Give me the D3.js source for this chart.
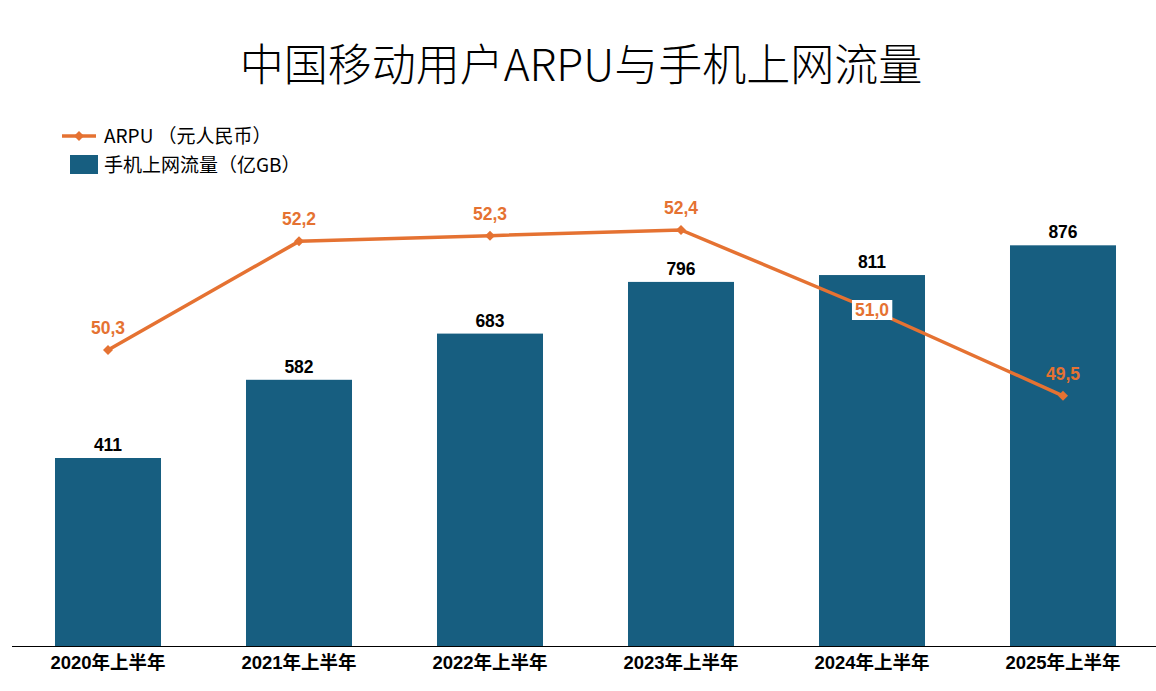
<!DOCTYPE html>
<html>
<head>
<meta charset="utf-8">
<script src="https://cdn.jsdelivr.net/npm/d3@7"></script>
<style>
  body { margin: 0; background: #fff; }
  svg { display: block; font-family: "Liberation Sans", Arial, sans-serif; }
</style>
</head>
<body>
<div id="chart"></div>
<script>
// data
const categories = ["2020年上半年", "2021年上半年", "2022年上半年", "2023年上半年", "2024年上半年", "2025年上半年"];
const traffic = [411, 582, 683, 796, 811, 876];      // 亿GB
const arpu = [50.3, 52.2, 52.3, 52.4, 51.0, 49.5];  // 元人民币
const title = "中国移动用户ARPU与手机上网流量";
const legendArpu = "ARPU （元人民币）";
const legendTraffic = "手机上网流量（亿GB）";

const width = 1156, height = 691;
const barColor = "#175E80", lineColor = "#E57232";
const baseY = 646;

const svg = d3.select("#chart").append("svg")
  .attr("width", width)
  .attr("height", height);

const x = d3.scaleBand()
  .domain(categories)
  .range([12.5, 1158.5])
  .paddingInner(0.445)
  .paddingOuter(0.2225);

const yBar = d3.scaleLinear().domain([0, 1000]).range([baseY, 188.6]);
const yLine = d3.scaleLinear().domain([45, 53]).range([653.2, 195.6]);

// title
svg.append("text")
  .attr("x", 581).attr("y", 81)
  .attr("text-anchor", "middle")
  .style("font-family", "'Noto Sans CJK SC', sans-serif")
  .style("font-weight", 300)
  .style("font-size", "44px")
  .attr("fill", "#000")
  .text(title);

// bars
svg.selectAll(".bar")
  .data(traffic)
  .enter().append("rect")
  .attr("class", "bar")
  .attr("x", (d, i) => x(categories[i]))
  .attr("y", d => yBar(d))
  .attr("width", x.bandwidth())
  .attr("height", d => baseY - yBar(d))
  .attr("fill", barColor);

svg.selectAll(".barlabel")
  .data(traffic)
  .enter().append("text")
  .attr("class", "barlabel")
  .attr("x", (d, i) => x(categories[i]) + x.bandwidth() / 2)
  .attr("y", d => yBar(d) - 7)
  .attr("text-anchor", "middle")
  .style("font-size", "17.5px")
  .style("font-weight", "bold")
  .attr("fill", "#000")
  .text(d => d);

// x axis
const xAxis = svg.append("g")
  .attr("transform", "translate(0," + baseY + ")")
  .call(d3.axisBottom(x).tickSize(0).tickPadding(10));
xAxis.select(".domain").attr("d", "M12,0.5H1156").attr("stroke", "#000");
xAxis.selectAll("text")
  .style("font-family", "'Liberation Sans', 'Noto Sans CJK SC', sans-serif")
  .style("font-size", "18.5px")
  .style("font-weight", "bold")
  .attr("fill", "#000");

// line
const cx = i => x(categories[i]) + x.bandwidth() / 2;
const line = d3.line()
  .x((d, i) => cx(i))
  .y(d => yLine(d));

svg.append("path")
  .datum(arpu)
  .attr("d", line)
  .attr("fill", "none")
  .attr("stroke", lineColor)
  .attr("stroke-width", 3.5);

// square marker turned 45 degrees
const marker = d3.symbol().type(d3.symbolSquare).size(50);
svg.selectAll(".marker")
  .data(arpu)
  .enter().append("path")
  .attr("class", "marker")
  .attr("d", marker)
  .attr("transform", (d, i) => "translate(" + cx(i) + "," + yLine(d) + ") rotate(45)")
  .attr("fill", lineColor);

// line labels
const fmt = d => d.toFixed(1).replace(".", ",");
arpu.forEach((d, i) => {
  const inside = i === 4;
  const g = svg.append("g");
  const t = g.append("text")
    .attr("x", cx(i))
    .attr("y", inside ? yLine(d) + 6 : yLine(d) - 16)
    .attr("text-anchor", "middle")
    .style("font-size", "17.5px")
    .style("font-weight", "bold")
    .attr("fill", lineColor)
    .text(fmt(d));
  if (inside) {
    const bb = t.node().getBBox();
    g.insert("rect", "text")
      .attr("x", bb.x - 3).attr("y", bb.y)
      .attr("width", bb.width + 6).attr("height", bb.height)
      .attr("fill", "#fff");
  }
});

// legend
const lg = svg.append("g");
lg.append("line")
  .attr("x1", 62).attr("x2", 96).attr("y1", 136).attr("y2", 136)
  .attr("stroke", lineColor).attr("stroke-width", 3.5);
lg.append("path")
  .attr("d", marker)
  .attr("transform", "translate(79,136) rotate(45)")
  .attr("fill", lineColor);
lg.append("text")
  .attr("x", 104).attr("y", 143)
  .style("font-family", "'Noto Sans CJK SC', sans-serif")
  .style("font-size", "19px")
  .attr("fill", "#000")
  .text(legendArpu);
lg.append("rect")
  .attr("x", 70).attr("y", 155).attr("width", 28).attr("height", 19)
  .attr("fill", barColor);
lg.append("text")
  .attr("x", 104).attr("y", 172)
  .style("font-family", "'Noto Sans CJK SC', sans-serif")
  .style("font-size", "19px")
  .attr("fill", "#000")
  .text(legendTraffic);
</script>
</body>
</html>
